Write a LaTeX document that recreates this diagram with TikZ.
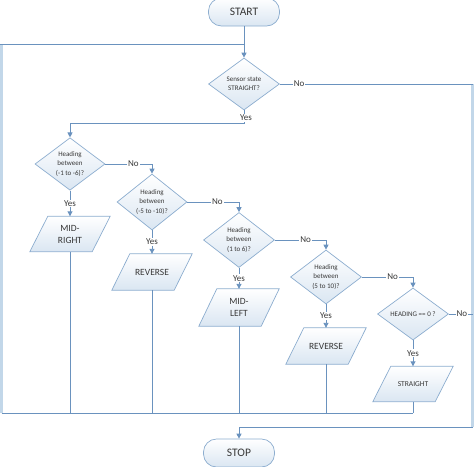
\documentclass[tikz,border=0pt]{standalone}
\usepackage{fontspec}
\setmainfont{Carlito}
\usetikzlibrary{shapes.geometric,arrows.meta,backgrounds}
\definecolor{ln}{HTML}{6A92BE}
\definecolor{bd}{HTML}{8CADCF}
\definecolor{fl}{HTML}{DAE6F2}
\definecolor{lt}{HTML}{C2D7E9}
\definecolor{tx}{HTML}{383838}
\begin{document}
\begin{tikzpicture}[x=1pt,y=-1pt,
  dec/.style={diamond, draw=bd, line width=0.7pt, top color=white, bottom color=fl, inner sep=0pt,
    minimum width=71pt, minimum height=52pt, align=center, text=tx, font=\fontsize{7}{9.3}\selectfont},
  io/.style={rectangle, minimum width=62pt, minimum height=35pt,
    inner sep=0pt, align=center, text=tx, font=\fontsize{9.5}{12}\selectfont},
  iofill/.style={draw=bd, line width=0.7pt, top color=white, bottom color=fl},
  term/.style={rectangle, rounded corners=13pt, draw=bd, line width=0.7pt, top color=white, bottom color=fl,
    minimum width=71pt, minimum height=28pt, text=tx, font=\fontsize{11.5}{13}\selectfont},
  conn/.style={draw=ln, line width=0.9pt},
  arr/.style={conn, -{Triangle[width=5pt,length=5pt]}},
  lbl/.style={fill=white, inner sep=1pt, text=tx, font=\fontsize{9}{10}\selectfont},
  sideline/.style={draw=lt, line width=2.6pt}
]
\useasboundingbox (0,0) rectangle (474,466);
\clip (0,0) rectangle (474,466);

% nodes
\node[term] (start) at (244,12) {START};
\node[dec] (d1) at (244,84) {Sensor state\\STRAIGHT?};
\node[dec, minimum width=70pt] (d2) at (70,164) {Heading\\between\\(-1 to -6)?};
\node[dec, minimum width=70pt, minimum height=51pt] (d3) at (152,202) {Heading\\between\\(-5 to -10)?};
\node[dec, minimum height=55pt] (d4) at (239,240) {Heading\\between\\(1 to 6)?};
\node[dec, minimum height=54pt] (d5) at (326,277) {Heading\\between\\(5 to 10)?};
\node[dec] (d6) at (413,314) {HEADING == 0 ?};
\node[io] (p1) at (70,234) {MID-\\RIGHT};
\node[io, minimum height=36pt] (p2) at (152,272) {REVERSE};
\node[io, minimum height=37pt] (p3) at (239,307.5) {MID-\\LEFT};
\node[io, minimum height=36pt] (p4) at (326,346) {REVERSE};
\node[io, minimum height=35pt, font=\fontsize{7.5}{9}\selectfont] (p5) at (413,384) {STRAIGHT};
\node[term] (stop) at (239,453) {STOP};

% parallelogram outlines of the input/output nodes
\begin{scope}[on background layer]
\foreach \n in {p1,p2,p3,p4,p5}
  \path[iofill] ([xshift=9pt]\n.north west) -- ([xshift=9pt]\n.north east)
    -- ([xshift=-9pt]\n.south east) -- ([xshift=-9pt]\n.south west) -- cycle;
\end{scope}

% coordinates
\coordinate (tl) at (0,44);
\coordinate (m) at (244,44);
\coordinate (L1) at (1.5,44);
\coordinate (L2) at (1.5,413);
\coordinate (B5) at (413,413);
\coordinate (R1) at (472.5,84);
\coordinate (R2) at (472.5,427);
\coordinate (j1) at (70,123);

% side return lines
\draw[sideline] (L1) -- (L2);
\draw[sideline] (R1) -- (R2);

% connectors
\draw[conn] (tl) -- (m);
\draw[arr] (start) -- (d1);
\draw[conn] (d1.east) -- node[lbl, pos=0.1] {No} (R1);
\draw[arr] (R2) -| (stop.north);
\draw[arr] (d1.south) |- node[lbl, pos=0.3, xshift=2pt] {Yes} (j1) -- (d2.north);

\draw[arr] (d2.east) -| node[lbl, pos=0.3] {No} (d3.north);
\draw[arr] (d3.east) -| node[lbl, pos=0.29] {No} (d4.north);
\draw[arr] (d4.east) -| node[lbl, pos=0.3] {No} (d5.north);
\draw[arr] (d5.east) -| node[lbl, pos=0.3] {No} (d6.north);
\draw[conn] (d6.east) -- node[lbl, pos=0.55] {No} (d6.east -| R1);

\draw[arr] (d2) -- node[lbl] {Yes} (p1);
\draw[arr] (d3) -- node[lbl] {Yes} (p2);
\draw[arr] (d4) -- node[lbl] {Yes} (p3);
\draw[arr] (d5) -- node[lbl] {Yes} (p4);
\draw[arr] (d6) -- node[lbl] {Yes} (p5);

\draw[conn] (L2) -- (B5);
\draw[conn] (p1) -- (p1 |- L2);
\draw[conn] (p2) -- (p2 |- L2);
\draw[conn] (p3) -- (p3 |- L2);
\draw[conn] (p4) -- (p4 |- L2);
\draw[conn] (p5) -- (B5);
\end{tikzpicture}
\end{document}
